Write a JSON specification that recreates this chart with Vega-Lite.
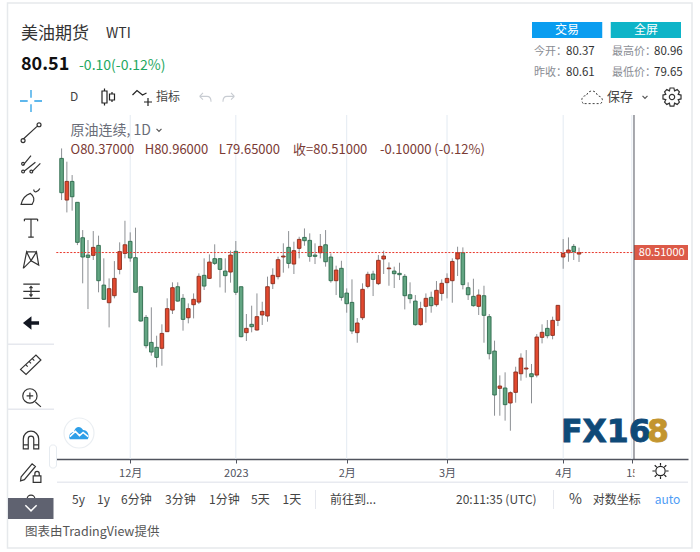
{
  "$schema": "https://vega.github.io/schema/vega-lite/v6.json",
  "width": 700,
  "height": 552,
  "autosize": {"type": "fit", "contains": "padding"},
  "padding": 0,
  "background": "#ffffff",
  "config": {
    "view": {"stroke": null},
    "font": "Noto Sans CJK SC",
    "scale": {"pointPadding": 0, "continuousPadding": 0},
    "text": {"font": "Noto Sans CJK SC", "align": "left", "baseline": "middle"}
  },
  "datasets": {
    "ohlc": [
      {"bar":1,"open":89.10,"high":90.01,"low":85.30,"close":85.97},
      {"bar":2,"open":85.30,"high":88.80,"low":84.17,"close":87.00},
      {"bar":3,"open":87.00,"high":87.58,"low":84.33,"close":85.60},
      {"bar":4,"open":85.09,"high":85.09,"low":81.19,"close":81.44},
      {"bar":5,"open":81.86,"high":82.56,"low":77.70,"close":80.10},
      {"bar":6,"open":80.28,"high":81.65,"low":75.35,"close":80.07},
      {"bar":7,"open":80.25,"high":82.47,"low":79.83,"close":80.98},
      {"bar":8,"open":81.16,"high":82.05,"low":76.88,"close":77.94},
      {"bar":9,"open":77.54,"high":79.98,"low":76.18,"close":76.24},
      {"bar":10,"open":75.93,"high":78.15,"low":73.68,"close":77.21},
      {"bar":11,"open":76.57,"high":79.73,"low":76.33,"close":78.15},
      {"bar":12,"open":78.97,"high":81.44,"low":78.52,"close":80.59},
      {"bar":13,"open":80.43,"high":83.41,"low":79.98,"close":81.22},
      {"bar":14,"open":81.53,"high":82.35,"low":79.67,"close":80.01},
      {"bar":15,"open":80.04,"high":82.78,"low":76.85,"close":76.88},
      {"bar":16,"open":77.39,"high":77.39,"low":74.20,"close":74.26},
      {"bar":17,"open":74.59,"high":74.81,"low":71.77,"close":72.01},
      {"bar":18,"open":72.31,"high":75.51,"low":71.10,"close":71.43},
      {"bar":19,"open":71.86,"high":72.92,"low":70.03,"close":70.94},
      {"bar":20,"open":71.77,"high":73.96,"low":70.18,"close":73.13},
      {"bar":21,"open":73.29,"high":76.33,"low":73.29,"close":75.39},
      {"bar":22,"open":75.26,"high":77.79,"low":74.90,"close":77.30},
      {"bar":23,"open":77.39,"high":77.79,"low":76.02,"close":76.08},
      {"bar":24,"open":76.33,"high":76.72,"low":73.38,"close":74.41},
      {"bar":25,"open":74.56,"high":75.87,"low":74.05,"close":75.39},
      {"bar":26,"open":75.75,"high":76.78,"low":74.50,"close":76.24},
      {"bar":27,"open":75.99,"high":78.61,"low":75.81,"close":78.34},
      {"bar":28,"open":78.43,"high":79.98,"low":77.09,"close":77.45},
      {"bar":29,"open":78.15,"high":80.34,"low":78.09,"close":79.64},
      {"bar":30,"open":79.95,"high":81.26,"low":79.37,"close":79.52},
      {"bar":31,"open":79.95,"high":79.98,"low":77.33,"close":78.97},
      {"bar":32,"open":78.82,"high":79.98,"low":76.85,"close":78.40},
      {"bar":33,"open":78.73,"high":80.68,"low":77.76,"close":80.28},
      {"bar":34,"open":80.62,"high":81.56,"low":76.63,"close":76.88},
      {"bar":35,"open":77.39,"high":77.39,"low":72.77,"close":72.83},
      {"bar":36,"open":73.20,"high":74.90,"low":72.44,"close":73.59},
      {"bar":37,"open":73.96,"high":75.66,"low":73.23,"close":73.74},
      {"bar":38,"open":73.44,"high":76.78,"low":73.38,"close":74.66},
      {"bar":39,"open":74.81,"high":76.02,"low":73.90,"close":75.14},
      {"bar":40,"open":74.72,"high":78.31,"low":74.20,"close":77.39},
      {"bar":41,"open":77.67,"high":79.07,"low":77.18,"close":78.43},
      {"bar":42,"open":78.31,"high":80.13,"low":78.06,"close":79.86},
      {"bar":43,"open":80.10,"high":81.35,"low":78.67,"close":80.19},
      {"bar":44,"open":80.98,"high":82.47,"low":79.07,"close":79.52},
      {"bar":45,"open":79.46,"high":81.50,"low":78.55,"close":80.68},
      {"bar":46,"open":80.89,"high":81.95,"low":79.98,"close":81.71},
      {"bar":47,"open":81.89,"high":82.71,"low":81.13,"close":81.59},
      {"bar":48,"open":81.62,"high":82.26,"low":79.67,"close":80.16},
      {"bar":49,"open":80.28,"high":81.35,"low":79.46,"close":80.16},
      {"bar":50,"open":80.49,"high":82.20,"low":79.98,"close":81.07},
      {"bar":51,"open":81.22,"high":82.56,"low":79.22,"close":79.67},
      {"bar":52,"open":80.10,"high":80.43,"low":77.76,"close":77.94},
      {"bar":53,"open":77.94,"high":79.31,"low":76.63,"close":78.91},
      {"bar":54,"open":79.07,"high":79.76,"low":76.12,"close":76.42},
      {"bar":55,"open":76.81,"high":77.24,"low":75.02,"close":75.84},
      {"bar":56,"open":75.96,"high":78.06,"low":73.07,"close":73.35},
      {"bar":57,"open":73.20,"high":74.53,"low":72.28,"close":74.08},
      {"bar":58,"open":74.56,"high":77.70,"low":74.35,"close":77.15},
      {"bar":59,"open":77.42,"high":78.76,"low":77.24,"close":78.52},
      {"bar":60,"open":78.55,"high":78.85,"low":76.54,"close":78.06},
      {"bar":61,"open":77.67,"high":80.28,"low":77.54,"close":79.80},
      {"bar":62,"open":79.92,"high":80.68,"low":78.55,"close":80.19},
      {"bar":63,"open":79.03,"high":79.61,"low":77.48,"close":79.10},
      {"bar":64,"open":78.82,"high":79.22,"low":77.27,"close":78.58},
      {"bar":65,"open":78.61,"high":79.58,"low":78.00,"close":78.49},
      {"bar":66,"open":78.34,"high":78.55,"low":75.32,"close":76.57},
      {"bar":67,"open":76.66,"high":77.79,"low":75.87,"close":76.30},
      {"bar":68,"open":76.08,"high":76.63,"low":73.83,"close":73.93},
      {"bar":69,"open":73.93,"high":76.02,"low":73.83,"close":75.39},
      {"bar":70,"open":75.60,"high":76.78,"low":74.11,"close":76.33},
      {"bar":71,"open":76.42,"high":76.94,"low":75.02,"close":75.66},
      {"bar":72,"open":75.75,"high":77.91,"low":75.57,"close":77.06},
      {"bar":73,"open":76.78,"high":78.06,"low":76.12,"close":77.70},
      {"bar":74,"open":77.76,"high":78.61,"low":76.33,"close":78.15},
      {"bar":75,"open":77.94,"high":79.98,"low":75.93,"close":79.70},
      {"bar":76,"open":79.92,"high":81.04,"low":78.37,"close":80.49},
      {"bar":77,"open":80.49,"high":80.98,"low":77.15,"close":77.58},
      {"bar":78,"open":77.30,"high":77.79,"low":76.18,"close":76.66},
      {"bar":79,"open":76.51,"high":78.12,"low":75.57,"close":75.66},
      {"bar":80,"open":75.60,"high":77.15,"low":74.81,"close":76.63},
      {"bar":81,"open":76.57,"high":77.48,"low":72.28,"close":74.78},
      {"bar":82,"open":74.66,"high":74.90,"low":70.76,"close":71.28},
      {"bar":83,"open":71.52,"high":72.47,"low":65.62,"close":67.51},
      {"bar":84,"open":68.12,"high":69.30,"low":65.62,"close":68.33},
      {"bar":85,"open":68.15,"high":69.58,"low":65.17,"close":66.63},
      {"bar":86,"open":66.78,"high":67.84,"low":64.25,"close":67.72},
      {"bar":87,"open":67.75,"high":70.09,"low":66.81,"close":69.61},
      {"bar":88,"open":69.45,"high":71.31,"low":68.82,"close":70.88},
      {"bar":89,"open":69.88,"high":71.61,"low":69.09,"close":69.97},
      {"bar":90,"open":69.45,"high":70.34,"low":66.75,"close":69.18},
      {"bar":91,"open":69.33,"high":73.07,"low":69.12,"close":72.80},
      {"bar":92,"open":72.77,"high":73.96,"low":72.22,"close":73.23},
      {"bar":93,"open":73.59,"high":74.35,"low":72.68,"close":72.92},
      {"bar":94,"open":72.95,"high":74.66,"low":72.59,"close":74.32},
      {"bar":95,"open":74.32,"high":75.72,"low":73.80,"close":75.69},
      {"bar":96,"open":80.10,"high":81.74,"low":79.03,"close":80.43},
      {"bar":97,"open":80.49,"high":81.89,"low":79.67,"close":80.74},
      {"bar":98,"open":81.07,"high":81.29,"low":79.83,"close":80.61},
      {"bar":99,"open":80.37,"high":80.96,"low":79.65,"close":80.51}
    ],
    "months": [{"bar":14},{"bar":34},{"bar":55},{"bar":74},{"bar":96},{"bar":109}],
    "quote": [
      {"label":"今开：","value":80.37,"col":"a","line":"first"},
      {"label":"最高价：","value":80.96,"col":"b","line":"first"},
      {"label":"昨收：","value":80.61,"col":"a","line":"second"},
      {"label":"最低价：","value":79.65,"col":"b","line":"second"}
    ]
  },
  "resolve": {"scale": {"x": "independent", "y": "independent", "shape": "independent", "color": "independent"}, "axis": {"x": "independent", "y": "independent"}},
  "layer": [
    {"data":{"values":[{"box":"frame"}]},"mark":{"type":"rect","fillOpacity":0,"stroke":"#e6e9ec","strokeWidth":1.5},"encoding":{"x":{"field":"box","type":"nominal","axis":null,"scale":{"type":"band","paddingInner":0,"paddingOuter":0,"range":[7.5,692]}},"y":{"field":"box","type":"nominal","axis":null,"scale":{"type":"band","paddingInner":0,"paddingOuter":0,"range":[3,548]}}}},
    {
      "encoding": {
        "x": {"field":"bar","type":"quantitative","title":null,"scale":{"domain":[0,119.64],"range":[56.3,688],"nice":false,"zero":false},
          "axis":{"values":[14,34,55,74,96,109],"labelExpr":"{14:'12月',34:'2023',55:'2月',74:'3月',96:'4月',109:'15'}[datum.value]","offset":-93,"grid":false,"domainColor":"#50535e","domainWidth":1.5,"tickColor":"#50535e","tickSize":4,"labelColor":"#50535e","labelFontSize":11,"labelPadding":4,"labelFlush":false,"labelOverlap":false}},
        "y": {"type":"quantitative","title":null,"scale":{"domain":[61.67,93.06],"range":[459,115],"nice":false,"zero":false},"axis":null}
      },
      "layer": [
        {"data":{"name":"months"},"mark":{"type":"rule","color":"#e3eaf2","strokeWidth":1},"encoding":{"y":{"datum":61.67},"y2":{"datum":93.06}}},
        {"data":{"name":"ohlc"},"mark":{"type":"rule","color":"#8d9094","strokeWidth":1},"encoding":{"y":{"field":"low"},"y2":{"field":"high"}}},
        {"data":{"name":"ohlc"},"mark":{"type":"bar","orient":"vertical","size":3.6,"strokeWidth":0.9},"encoding":{"y":{"field":"open"},"y2":{"field":"close"},
          "fill":{"condition":{"test":"datum.close>=datum.open","value":"#e2492f"},"value":"#62a582"},
          "stroke":{"condition":{"test":"datum.close>=datum.open","value":"#8a2c1d"},"value":"#2c6a4c"}}},
        {"data":{"name":"ohlc"},"transform":[{"filter":"datum.bar==99"}],"mark":{"type":"rule","color":"#e8372b","strokeWidth":1,"strokeDash":[2,1.5]},"encoding":{"x":{"datum":0},"x2":{"datum":109.4},"y":{"field":"close"}}},
        {"data":{"name":"ohlc"},"transform":[{"filter":"datum.bar==99"}],"mark":{"type":"bar","orient":"horizontal","size":15,"color":"#dc5a48"},"encoding":{"x":{"datum":109.4},"x2":{"datum":119.64},"y":{"field":"close"}}},
        {"data":{"name":"ohlc"},"transform":[{"filter":"datum.bar==99"}],"mark":{"type":"text","align":"center","color":"#ffffff","fontSize":11},"encoding":{"x":{"datum":114.66},"y":{"field":"close"},"text":{"field":"close","format":".5f"}}}
      ]
    },
    {"data":{"values":[{"box":"mask"}]},"mark":{"type":"rect","fill":"#ffffff"},"encoding":{"x":{"field":"box","type":"nominal","axis":null,"scale":{"type":"band","paddingInner":0,"paddingOuter":0,"range":[634.5,650]}},"y":{"field":"box","type":"nominal","axis":null,"scale":{"type":"band","paddingInner":0,"paddingOuter":0,"range":[464,481]}}}},
    {"data":{"name":"months"},"transform":[{"filter":"datum.bar==109"}],"mark":{"type":"rule","color":"#50535e","strokeWidth":1},"encoding":{"x":{"datum":109.41,"scale":{"domain":[0,119.64],"range":[56.3,688],"nice":false,"zero":false},"axis":null},"y":{"datum":61.67,"scale":{"domain":[59.57,93.06],"range":[482,115],"nice":false,"zero":false},"axis":null},"y2":{"datum":93.06}}},
    {"data":{"values":[{"box":"line"}]},"mark":{"type":"rect","fill":"#e8eaf0"},"encoding":{"x":{"field":"box","type":"nominal","axis":null,"scale":{"type":"band","paddingInner":0,"paddingOuter":0,"range":[57,688]}},"y":{"field":"box","type":"nominal","axis":null,"scale":{"type":"band","paddingInner":0,"paddingOuter":0,"range":[481.5,483]}}}},
    {"data":{"values":[{"box":"交易","row":"buttons"},{"box":"全屏","row":"buttons"}]},"mark":{"type":"rect"},"encoding":{"x":{"field":"box","type":"nominal","axis":null,"scale":{"type":"band","domain":["交易","全屏"],"paddingInner":0.108,"paddingOuter":0,"range":[532,681]}},"y":{"field":"row","type":"nominal","axis":null,"scale":{"type":"band","paddingInner":0,"paddingOuter":0,"range":[22,38]}},"fill":{"field":"box","type":"nominal","legend":null,"scale":{"domain":["交易","全屏"],"range":["#0a9df0","#0eb4c8"]}}}},
    {"data":{"values":[{"t":"交易"},{"t":"全屏"}]},"mark":{"type":"text","align":"center","fontSize":12,"color":"#ffffff"},"encoding":{"x":{"field":"t","type":"nominal","axis":null,"scale":{"domain":["交易","全屏"],"range":[567,646]}},"y":{"field":"t","type":"nominal","axis":null,"scale":{"range":[30,30]}},"text":{"field":"t"}}},
    {"data":{"values":[{"t":"美油期货"}]},"mark":{"type":"text","fontSize":17,"color":"#333333"},"encoding":{"x":{"field":"t","type":"nominal","axis":null,"scale":{"range":[21,21]}},"y":{"field":"t","type":"nominal","axis":null,"scale":{"range":[34,34]}},"text":{"field":"t"}}},
    {"data":{"values":[{"t":"WTI"}]},"mark":{"type":"text","fontSize":14,"color":"#333333"},"encoding":{"x":{"field":"t","type":"nominal","axis":null,"scale":{"range":[106,106]}},"y":{"field":"t","type":"nominal","axis":null,"scale":{"range":[34,34]}},"text":{"field":"t"}}},
    {"data":{"values":[{"t":"80.51"}]},"mark":{"type":"text","fontSize":18,"fontWeight":"bold","color":"#111111"},"encoding":{"x":{"field":"t","type":"nominal","axis":null,"scale":{"range":[21,21]}},"y":{"field":"t","type":"nominal","axis":null,"scale":{"range":[65,65]}},"text":{"field":"t"}}},
    {"data":{"values":[{"t":"-0.10(-0.12%)"}]},"mark":{"type":"text","fontSize":14,"color":"#1fa862"},"encoding":{"x":{"field":"t","type":"nominal","axis":null,"scale":{"range":[79,79]}},"y":{"field":"t","type":"nominal","axis":null,"scale":{"range":[66,66]}},"text":{"field":"t"}}},
    {"data":{"name":"quote"},"mark":{"type":"text","fontSize":11,"color":"#8a8d94"},"encoding":{"x":{"field":"col","type":"nominal","axis":null,"scale":{"domain":["a","b"],"range":[534,612]}},"y":{"field":"line","type":"nominal","axis":null,"scale":{"domain":["first","second"],"range":[52,73]}},"text":{"field":"label"}}},
    {"data":{"name":"quote"},"mark":{"type":"text","fontSize":11.5,"color":"#333333"},"encoding":{"x":{"field":"col","type":"nominal","axis":null,"scale":{"domain":["a","b"],"range":[566,654]}},"y":{"field":"line","type":"nominal","axis":null,"scale":{"domain":["first","second"],"range":[52,73]}},"text":{"field":"value","format":".2f"}}},
    {"data":{"values":[{"t":"D"},{"t":"指标"}]},"mark":{"type":"text","fontSize":12,"color":"#444444"},"encoding":{"x":{"field":"t","type":"nominal","axis":null,"scale":{"domain":["D","指标"],"range":[70,156]}},"y":{"field":"t","type":"nominal","axis":null,"scale":{"range":[97,97]}},"text":{"field":"t"}}},
    {"data":{"values":[{"t":"保存"}]},"mark":{"type":"text","fontSize":13,"color":"#444444"},"encoding":{"x":{"field":"t","type":"nominal","axis":null,"scale":{"range":[607,607]}},"y":{"field":"t","type":"nominal","axis":null,"scale":{"range":[97,97]}},"text":{"field":"t"}}},
    {"data":{"values":[{"t":"原油连续, 1D"}]},"mark":{"type":"text","fontSize":14,"color":"#6a6d78"},"encoding":{"x":{"field":"t","type":"nominal","axis":null,"scale":{"range":[70.5,70.5]}},"y":{"field":"t","type":"nominal","axis":null,"scale":{"range":[131,131]}},"text":{"field":"t"}}},
    {"data":{"values":[{"t":"O80.37000"},{"t":"H80.96000"},{"t":"L79.65000"},{"t":"收=80.51000"}]},"mark":{"type":"text","fontSize":13,"color":"#7b3b35"},"encoding":{"x":{"field":"t","type":"nominal","axis":null,"scale":{"domain":["O80.37000","H80.96000","L79.65000","收=80.51000"],"range":[70.5,293]}},"y":{"field":"t","type":"nominal","axis":null,"scale":{"range":[150,150]}},"text":{"field":"t"}}},
    {"data":{"values":[{"t":"-0.10000 (-0.12%)"}]},"mark":{"type":"text","fontSize":13,"color":"#7b3b35"},"encoding":{"x":{"field":"t","type":"nominal","axis":null,"scale":{"range":[380,380]}},"y":{"field":"t","type":"nominal","axis":null,"scale":{"range":[150,150]}},"text":{"field":"t"}}},
    {"data":{"values":[{"t":"5y"},{"t":"1y"}]},"mark":{"type":"text","fontSize":12,"color":"#444444"},"encoding":{"x":{"field":"t","type":"nominal","axis":null,"scale":{"domain":["5y","1y"],"range":[72,97]}},"y":{"field":"t","type":"nominal","axis":null,"scale":{"range":[500,500]}},"text":{"field":"t"}}},
    {"data":{"values":[{"t":"6分钟"},{"t":"3分钟"},{"t":"1分钟"}]},"mark":{"type":"text","fontSize":12,"color":"#444444"},"encoding":{"x":{"field":"t","type":"nominal","axis":null,"scale":{"domain":["6分钟","3分钟","1分钟"],"range":[121,209]}},"y":{"field":"t","type":"nominal","axis":null,"scale":{"range":[500,500]}},"text":{"field":"t"}}},
    {"data":{"values":[{"t":"5天"},{"t":"1天"}]},"mark":{"type":"text","fontSize":12,"color":"#444444"},"encoding":{"x":{"field":"t","type":"nominal","axis":null,"scale":{"domain":["5天","1天"],"range":[251,282.6]}},"y":{"field":"t","type":"nominal","axis":null,"scale":{"range":[500,500]}},"text":{"field":"t"}}},
    {"data":{"values":[{"t":"前往到..."},{"t":"20:11:35 (UTC)"}]},"mark":{"type":"text","fontSize":12,"color":"#444444"},"encoding":{"x":{"field":"t","type":"nominal","axis":null,"scale":{"domain":["前往到...","20:11:35 (UTC)"],"range":[330,456]}},"y":{"field":"t","type":"nominal","axis":null,"scale":{"range":[500,500]}},"text":{"field":"t"}}},
    {"data":{"values":[{"t":"%"}]},"mark":{"type":"text","fontSize":14,"color":"#444444"},"encoding":{"x":{"field":"t","type":"nominal","axis":null,"scale":{"range":[569,569]}},"y":{"field":"t","type":"nominal","axis":null,"scale":{"range":[500,500]}},"text":{"field":"t"}}},
    {"data":{"values":[{"t":"对数坐标"}]},"mark":{"type":"text","fontSize":12,"color":"#444444"},"encoding":{"x":{"field":"t","type":"nominal","axis":null,"scale":{"range":[592.7,592.7]}},"y":{"field":"t","type":"nominal","axis":null,"scale":{"range":[500,500]}},"text":{"field":"t"}}},
    {"data":{"values":[{"t":"auto"}]},"mark":{"type":"text","fontSize":12,"color":"#4e9cf5"},"encoding":{"x":{"field":"t","type":"nominal","axis":null,"scale":{"range":[654.7,654.7]}},"y":{"field":"t","type":"nominal","axis":null,"scale":{"range":[500,500]}},"text":{"field":"t"}}},
    {"data":{"values":[{"t":"图表由TradingView提供"}]},"mark":{"type":"text","fontSize":12.5,"color":"#555555"},"encoding":{"x":{"field":"t","type":"nominal","axis":null,"scale":{"range":[25,25]}},"y":{"field":"t","type":"nominal","axis":null,"scale":{"range":[532,532]}},"text":{"field":"t"}}},
    {"data":{"values":[{"t":"FX16"}]},"mark":{"type":"text","font":"DejaVu Sans","fontWeight":"bold","fontSize":31.5,"color":"#0f4a78","stroke":"#0f4a78","strokeWidth":0.8},"encoding":{"x":{"field":"t","type":"nominal","axis":null,"scale":{"range":[561,561]}},"y":{"field":"t","type":"nominal","axis":null,"scale":{"range":[433,433]}},"text":{"field":"t"}}},
    {"data":{"values":[{"t":"8"}]},"mark":{"type":"text","font":"DejaVu Sans","fontWeight":"bold","fontSize":31.5,"color":"#c3952f","stroke":"#c3952f","strokeWidth":0.8},"encoding":{"x":{"field":"t","type":"nominal","axis":null,"scale":{"range":[647,647]}},"y":{"field":"t","type":"nominal","axis":null,"scale":{"range":[433,433]}},"text":{"field":"t"}}},
    {"data":{"values":[{"tool":"crosshair"}]},"mark":{"type":"point","filled":false,"opacity":1,"size":484,"strokeWidth":1.3,"color":"#2aa0e6"},"encoding":{"x":{"field":"tool","type":"nominal","axis":null,"scale":{"range":[31,31]}},"y":{"field":"tool","type":"nominal","axis":null,"scale":{"range":[101,101]}},"shape":{"field":"tool","type":"nominal","legend":null,"scale":{"domain":["crosshair"],"range":["M-1 0H-.3M.3 0H1M0 -1V-.3M0 .3V1"]}}}},
    {"data":{"values":[{"tool":"trend"},{"tool":"fork"},{"tool":"brush"},{"tool":"text"},{"tool":"nodes"},{"tool":"measure"}]},"mark":{"type":"point","filled":false,"opacity":1,"size":484,"strokeWidth":1.2,"color":"#333333"},"encoding":{"x":{"field":"tool","type":"nominal","axis":null,"scale":{"range":[31,31]}},"y":{"field":"tool","type":"nominal","axis":null,"scale":{"domain":["trend","fork","brush","text","nodes","measure"],"range":[132.7,291.3]}},"shape":{"field":"tool","type":"nominal","legend":null,"scale":{"domain":["trend","fork","brush","text","nodes","measure"],"range":[
      "M-.72 .6L.6 -.62M-.9 .72a.18 .18 0 1 0 .36 0a.18 .18 0 1 0 -.36 0M.55 -.72a.18 .18 0 1 0 .36 0a.18 .18 0 1 0 -.36 0",
      "M-.75 .1L.0 -.8M-.6 .6L.4 -.2M.1 .65L.85 -.1M-.85 -.05a.13 .13 0 1 0 .26 0a.13 .13 0 1 0 -.26 0M-.85 .65a.13 .13 0 1 0 .26 0a.13 .13 0 1 0 -.26 0M-.1 .65a.13 .13 0 1 0 .26 0a.13 .13 0 1 0 -.26 0",
      "M-.9 .75H.1C.4 .35 .25 -.05 -.05 -.25C-.5 -.1 -.8 .3 -.9 .75ZM.25 -.6C.25 -.3 .6 -.3 .8 -.7",
      "M-.6 -.8H.6M0 -.8V.85M-.25 .85H.25M-.6 -.8V-.6M.6 -.8V-.6",
      "M-.7 .8L-.4 -.7L0 .1L.5 -.7L.7 .5L0 .1L-.7 .8M-.4 -.7L.5 -.7",
      "M-.7 -.65H.8M-.7 0H.8M-.7 .65H.8M0 -.45V.45M-.14 -.28L0 -.45L.14 -.28M-.14 .28L0 .45L.14 .28"
    ]}}}},
    {"data":{"values":[{"tool":"arrow"}]},"mark":{"type":"point","filled":true,"opacity":1,"size":320,"color":"#131722"},"encoding":{"x":{"field":"tool","type":"nominal","axis":null,"scale":{"range":[31,31]}},"y":{"field":"tool","type":"nominal","axis":null,"scale":{"range":[323,323]}},"shape":{"field":"tool","type":"nominal","legend":null,"scale":{"domain":["arrow"],"range":["M.9 -.2H.05V-.75L-.9 0L.05 .75V.2H.9Z"]}}}},
    {"data":{"values":[{"tool":"ruler"},{"tool":"zoom"}]},"mark":{"type":"point","filled":false,"opacity":1,"size":484,"strokeWidth":1.2,"color":"#333333"},"encoding":{"x":{"field":"tool","type":"nominal","axis":null,"scale":{"range":[31,31]}},"y":{"field":"tool","type":"nominal","axis":null,"scale":{"domain":["ruler","zoom"],"range":[365,397]}},"shape":{"field":"tool","type":"nominal","legend":null,"scale":{"domain":["ruler","zoom"],"range":["M-.95 .4L.45 -.9L.9 -.45L-.45 .85ZM-.5 -.05L-.3 .15M-.2 -.35L0 -.15M.1 -.6L.3 -.4","M-.75 -.1a.65 .65 0 1 0 1.3 0a.65 .65 0 1 0 -1.3 0M.4 .45L.9 .9M-.4 -.1H.2M-.1 -.4V.2"]}}}},
    {"data":{"values":[{"tool":"magnet"},{"tool":"pencil"}]},"mark":{"type":"point","filled":false,"opacity":1,"size":484,"strokeWidth":1.2,"color":"#333333"},"encoding":{"x":{"field":"tool","type":"nominal","axis":null,"scale":{"range":[31,31]}},"y":{"field":"tool","type":"nominal","axis":null,"scale":{"domain":["magnet","pencil"],"range":[440,472]}},"shape":{"field":"tool","type":"nominal","legend":null,"scale":{"domain":["magnet","pencil"],"range":["M-.7 .8V-.1A.7 .7 0 0 1 .7 -.1V.8H.25V-.1A.25 .25 0 0 0 -.25 -.1V.8ZM-.7 .45H-.25M.25 .45H.7","M-.9 .45L.1 -.75L.4 -.5L-.6 .7L-.95 .8ZM.2 .35H.9V.95H.2ZM.35 .35V.15A.2 .2 0 0 1 .75 .15V.35"]}}}},
    {"data":{"values":[{"tool":"lock"}]},"mark":{"type":"point","filled":false,"opacity":1,"size":484,"strokeWidth":1.2,"color":"#333333"},"encoding":{"x":{"field":"tool","type":"nominal","axis":null,"scale":{"range":[31,31]}},"y":{"field":"tool","type":"nominal","axis":null,"scale":{"range":[505,505]}},"shape":{"field":"tool","type":"nominal","legend":null,"scale":{"domain":["lock"],"range":["M-.6 -.1H.6V.8H-.6ZM-.35 -.1V-.55A.35 .35 0 0 1 .35 -.55"]}}}},
    {"data":{"values":[{"box":"dark"}]},"mark":{"type":"rect","fill":"#5f6270"},"encoding":{"x":{"field":"box","type":"nominal","axis":null,"scale":{"type":"band","paddingInner":0,"paddingOuter":0,"range":[8,53.5]}},"y":{"field":"box","type":"nominal","axis":null,"scale":{"type":"band","paddingInner":0,"paddingOuter":0,"range":[498,519]}}}},
    {"data":{"values":[{"tool":"chevron"}]},"mark":{"type":"point","filled":false,"opacity":1,"size":200,"strokeWidth":1.5,"color":"#ffffff"},"encoding":{"x":{"field":"tool","type":"nominal","axis":null,"scale":{"range":[31,31]}},"y":{"field":"tool","type":"nominal","axis":null,"scale":{"range":[508,508]}},"shape":{"field":"tool","type":"nominal","legend":null,"scale":{"domain":["chevron"],"range":["M-.8 -.4L0 .4L.8 -.4"]}}}},
    {"data":{"values":[{"box":"sep1"}]},"mark":{"type":"rect","fill":"#e6e8ee"},"encoding":{"x":{"field":"box","type":"nominal","axis":null,"scale":{"type":"band","paddingInner":0,"paddingOuter":0,"range":[8,54]}},"y":{"field":"box","type":"nominal","axis":null,"scale":{"type":"band","paddingInner":0,"paddingOuter":0,"range":[343.5,345]}}}},
    {"data":{"values":[{"box":"sep2"}]},"mark":{"type":"rect","fill":"#e6e8ee"},"encoding":{"x":{"field":"box","type":"nominal","axis":null,"scale":{"type":"band","paddingInner":0,"paddingOuter":0,"range":[8,54]}},"y":{"field":"box","type":"nominal","axis":null,"scale":{"type":"band","paddingInner":0,"paddingOuter":0,"range":[408.5,410]}}}},
    {"data":{"values":[{"box":"pipe1","row":"tools"},{"box":"pipe2","row":"tools"}]},"mark":{"type":"rect","fill":"#e6e8ee"},"encoding":{"x":{"field":"box","type":"nominal","axis":null,"scale":{"type":"band","paddingInner":0.9958,"paddingOuter":0,"domain":["pipe1","pipe2"],"range":[315,554]}},"y":{"field":"row","type":"nominal","axis":null,"scale":{"type":"band","paddingInner":0,"paddingOuter":0,"range":[490,509]}}}},
    {"data":{"values":[{"box":"handle"}]},"mark":{"type":"rect","fill":"#ffffff","stroke":"#e6ebf0","strokeWidth":1,"cornerRadius":3},"encoding":{"x":{"field":"box","type":"nominal","axis":null,"scale":{"type":"band","paddingInner":0,"paddingOuter":0,"range":[49.5,56.5]}},"y":{"field":"box","type":"nominal","axis":null,"scale":{"type":"band","paddingInner":0,"paddingOuter":0,"range":[445,468]}}}},
    {"data":{"values":[{"tool":"badge"}]},"mark":{"type":"point","filled":true,"opacity":1,"size":900,"fill":"#ffffff","stroke":"#eaeef2","strokeWidth":1.2},"encoding":{"x":{"field":"tool","type":"nominal","axis":null,"scale":{"range":[79,79]}},"y":{"field":"tool","type":"nominal","axis":null,"scale":{"range":[433,433]}},"shape":{"field":"tool","type":"nominal","legend":null,"scale":{"domain":["badge"],"range":["circle"]}}}},
    {"data":{"values":[{"tool":"cloud"}]},"mark":{"type":"point","filled":true,"opacity":1,"size":420,"color":"#2e9fe8"},"encoding":{"x":{"field":"tool","type":"nominal","axis":null,"scale":{"range":[79,79]}},"y":{"field":"tool","type":"nominal","axis":null,"scale":{"range":[433,433]}},"shape":{"field":"tool","type":"nominal","legend":null,"scale":{"domain":["cloud"],"range":["M-.9 .6C-1.1 .1 -.7 -.1 -.5 -.1C-.4 -.6 .1 -.8 .4 -.3C.8 -.3 1.1 .2 .85 .6Z"]}}}},
    {"data":{"values":[{"tool":"wave"}]},"mark":{"type":"point","filled":false,"opacity":1,"size":420,"strokeWidth":1.6,"color":"#ffffff"},"encoding":{"x":{"field":"tool","type":"nominal","axis":null,"scale":{"range":[79,79]}},"y":{"field":"tool","type":"nominal","axis":null,"scale":{"range":[433,433]}},"shape":{"field":"tool","type":"nominal","legend":null,"scale":{"domain":["wave"],"range":["M-.9 .35L-.35 -.15L.05 .25L.4 -.05L.9 .35"]}}}},
    {"data":{"values":[{"tool":"candles"},{"tool":"indicator"}]},"mark":{"type":"point","filled":false,"opacity":1,"size":400,"strokeWidth":1.2,"color":"#222222"},"encoding":{"x":{"field":"tool","type":"nominal","axis":null,"scale":{"domain":["candles","indicator"],"range":[108,142]}},"y":{"field":"tool","type":"nominal","axis":null,"scale":{"range":[97,97]}},"shape":{"field":"tool","type":"nominal","legend":null,"scale":{"domain":["candles","indicator"],"range":["M-.35 -.85V-.6M-.6 -.6H-.1V.6H-.6ZM-.35 .6V.85M.4 -.5V-.3M.15 -.3H.65V.3H.15ZM.4 .3V.5","M-.95 -.2L-.5 -.65L.05 -.2L.45 -.4M.6 .1V.9M.2 .5H1"]}}}},
    {"data":{"values":[{"tool":"undo"},{"tool":"redo"}]},"mark":{"type":"point","filled":false,"opacity":1,"size":180,"strokeWidth":1.1,"color":"#c8ccd2"},"encoding":{"x":{"field":"tool","type":"nominal","axis":null,"scale":{"domain":["undo","redo"],"range":[205,229]}},"y":{"field":"tool","type":"nominal","axis":null,"scale":{"range":[97,97]}},"shape":{"field":"tool","type":"nominal","legend":null,"scale":{"domain":["undo","redo"],"range":["M-.8 -.1L-.3 -.6M-.8 -.1L-.3 .4M-.8 -.1H.3C.7 -.1 .9 .2 .9 .7","M.8 -.1L.3 -.6M.8 -.1L.3 .4M.8 -.1H-.3C-.7 -.1 -.9 .2 -.9 .7"]}}}},
    {"data":{"values":[{"tool":"save"}]},"mark":{"type":"point","filled":false,"opacity":1,"size":484,"strokeWidth":1,"strokeDash":[2,2],"color":"#444444"},"encoding":{"x":{"field":"tool","type":"nominal","axis":null,"scale":{"range":[592,592]}},"y":{"field":"tool","type":"nominal","axis":null,"scale":{"range":[97,97]}},"shape":{"field":"tool","type":"nominal","legend":null,"scale":{"domain":["save"],"range":["M-.8 .6C-1.1 .2 -.8 -.2 -.5 -.1C-.4 -.7 .4 -.7 .5 -.1C.9 -.1 1.1 .3 .8 .6Z"]}}}},
    {"data":{"values":[{"tool":"a"},{"tool":"b"}]},"mark":{"type":"point","filled":false,"opacity":1,"size":50,"strokeWidth":1.2,"color":"#555555"},"encoding":{"x":{"field":"tool","type":"nominal","axis":null,"scale":{"domain":["a","b"],"range":[159,645]}},"y":{"field":"tool","type":"nominal","axis":null,"scale":{"domain":["a","b"],"range":[130,97]}},"shape":{"field":"tool","type":"nominal","legend":null,"scale":{"domain":["a","b"],"range":["M-.7 -.3L0 .4L.7 -.3","M-.7 -.3L0 .4L.7 -.3"]}}}},
    {"data":{"values":[{"tool":"gear"}]},"mark":{"type":"point","filled":false,"opacity":1,"size":361,"strokeWidth":1.2,"color":"#333333"},"encoding":{"x":{"field":"tool","type":"nominal","axis":null,"scale":{"range":[672,672]}},"y":{"field":"tool","type":"nominal","axis":null,"scale":{"range":[97,97]}},"shape":{"field":"tool","type":"nominal","legend":null,"scale":{"domain":["gear"],"range":["M-.2 -.95H.2L.27 -.65L.55 -.78L.78 -.55L.65 -.27L.95 -.2V.2L.65 .27L.78 .55L.55 .78L.27 .65L.2 .95H-.2L-.27 .65L-.55 .78L-.78 .55L-.65 .27L-.95 .2V-.2L-.65 -.27L-.78 -.55L-.55 -.78L-.27 -.65ZM-.28 0a.28 .28 0 1 0 .56 0a.28 .28 0 1 0 -.56 0"]}}}},
    {"data":{"values":[{"tool":"sun"}]},"mark":{"type":"point","filled":false,"opacity":1,"size":289,"strokeWidth":1.2,"color":"#222222"},"encoding":{"x":{"field":"tool","type":"nominal","axis":null,"scale":{"range":[660.5,660.5]}},"y":{"field":"tool","type":"nominal","axis":null,"scale":{"range":[471,471]}},"shape":{"field":"tool","type":"nominal","legend":null,"scale":{"domain":["sun"],"range":["M-.55 0a.55 .55 0 1 0 1.1 0a.55 .55 0 1 0 -1.1 0M0 -.95V-.65M0 .65V.95M-.95 0H-.65M.65 0H.95M-.68 -.68L-.45 -.45M.45 .45L.68 .68M-.68 .68L-.45 .45M.45 -.45L.68 -.68"]}}}}
  ]
}
